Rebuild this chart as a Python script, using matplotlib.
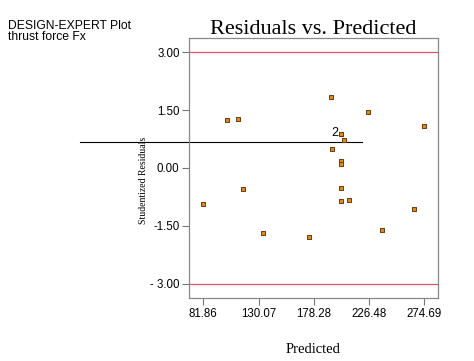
import matplotlib
matplotlib.use("Agg")
import matplotlib.pyplot as plt

predicted = [81.86, 102.5, 111.9, 116.2, 134.3, 174.1, 193.4, 194.2, 202.4, 202.4,
             205.0, 202.4, 202.4, 202.4, 202.4, 208.8, 225.7, 237.9, 265.6, 274.3]
residuals = [-0.92, 1.23, 1.26, -0.54, -1.67, -1.78, 1.84, 0.48, 0.88, 0.88,
             0.72, 0.17, 0.10, -0.53, -0.86, -0.84, 1.44, -1.61, -1.07, 1.09]
xticks = [81.86, 130.07, 178.28, 226.48, 274.69]
xticklabels = ["81.86", "130.07", "178.28", "226.48", "274.69"]
yticks = [3.0, 1.5, 0.0, -1.5, -3.0]
yticklabels = ["3.00", "1.50", "0.00", "-1.50", "- 3.00"]
limits = [3.0, -3.0]
ref_y = 0.66

fig = plt.figure(figsize=(4.74, 3.61), dpi=100)
ax = fig.add_axes([0.3994, 0.1737, 0.5253, 0.7224])
ax.set_xlim(69.6, 287.2)
ax.set_ylim(-3.37, 3.375)

for v in limits:
    ax.axhline(v, color="#e0506a", lw=0.9, zorder=1)

ax.scatter(predicted, residuals, marker="s", s=9, facecolor="#e08a1a",
           edgecolor="#6a3a10", linewidths=0.7, zorder=3)

ax.plot([-25.8, 220.2], [ref_y, ref_y], color="black", lw=0.8, clip_on=False, zorder=2)
ax.text(200.0, 0.90, "2", fontsize=9, family="Liberation Sans", ha="right", va="center")

ax.set_xticks(xticks)
ax.set_xticklabels(xticklabels)
ax.set_yticks(yticks)
ax.set_yticklabels(yticklabels)
ax.tick_params(direction="out", length=5, width=0.8, color="#777777",
               labelsize=8.3, pad=2)
for lab in ax.get_xticklabels() + ax.get_yticklabels():
    lab.set_family("Liberation Sans")
for s in ax.spines.values():
    s.set_color("#888888")
    s.set_linewidth(0.9)

fig.text(0.66, 0.917, "Residuals vs. Predicted", family="Liberation Serif",
         fontsize=16, ha="center", va="center")
fig.text(0.66, 0.033, "Predicted", family="Liberation Serif", fontsize=10.5,
         ha="center", va="center")
fig.text(0.302, 0.50, "Studentized Residuals", family="Liberation Serif",
         fontsize=7, rotation=90, ha="center", va="center")
fig.text(0.017, 0.912, "DESIGN-EXPERT Plot\nthrust force Fx", family="Liberation Sans",
         fontsize=8.7, ha="left", va="center", linespacing=0.9)

fig.savefig("out.png", dpi=100)
